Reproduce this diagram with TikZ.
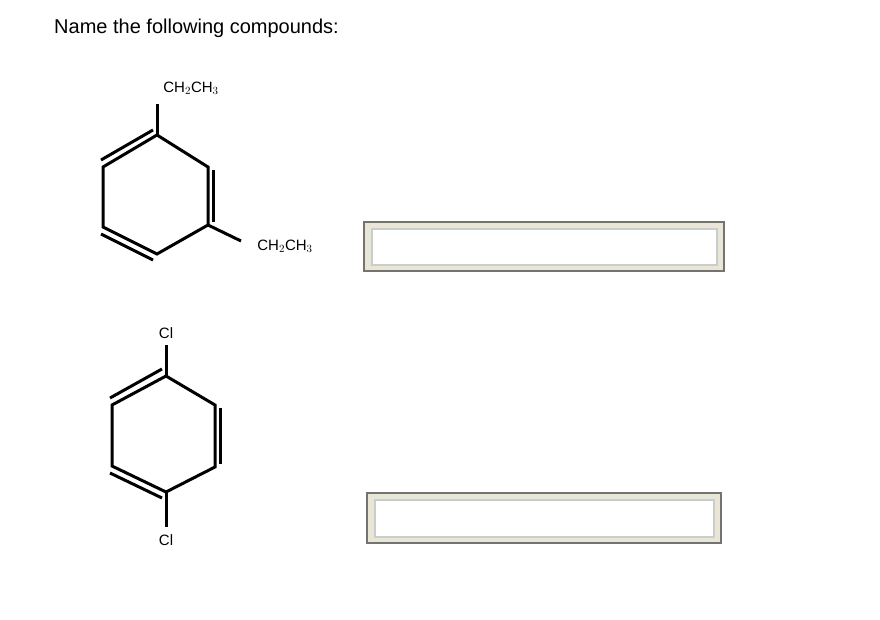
\documentclass[tikz,border=0pt]{standalone}
\usepackage{fontspec}
\setmainfont{Liberation Sans}
\begin{document}
\begin{tikzpicture}[x=1pt,y=-1pt,
  bond/.style={line width=3pt,line cap=butt},
  lab/.style={font=\fontsize{15}{17}\selectfont,inner sep=0pt},
  frameouter/.style={draw=gray!90!black,line width=1.5pt,fill={rgb,255:red,233;green,230;blue,214}},
  frameinner/.style={draw={rgb,255:red,200;green,205;blue,205},line width=1.2pt,fill=white}]
\useasboundingbox (0,0) rectangle (880,620);
\node[anchor=west,font=\fontsize{20}{24}\selectfont,inner sep=0pt] (title) at (54,28) {Name the following compounds:};
% molecule 1
\coordinate (a1) at (157,135); \coordinate (a2) at (208,167); \coordinate (a3) at (208,225);
\coordinate (a4) at (157,254); \coordinate (a5) at (103,227); \coordinate (a6) at (103,167);
\draw[bond,line join=miter] (a1)--(a2)--(a3)--(a4)--(a5)--(a6)--cycle;
\draw[bond] (213,170)--(213,222);
\draw[bond] (101,160)--(153,130);
\draw[bond] (101,234)--(153,260);
\node[lab] (e1) at (191,88) {CH$_2$CH$_3$};
\draw[bond] (a1)--(157,104);
\node[lab] (e2) at (285,246) {CH$_2$CH$_3$};
\draw[bond] (a3)--(241,241);
% molecule 2
\coordinate (b1) at (166,376); \coordinate (b2) at (215,405); \coordinate (b3) at (215,467);
\coordinate (b4) at (166,492); \coordinate (b5) at (112,466); \coordinate (b6) at (112,405);
\draw[bond,line join=miter] (b1)--(b2)--(b3)--(b4)--(b5)--(b6)--cycle;
\draw[bond] (220,408)--(220,464);
\draw[bond] (110,398)--(162,369);
\draw[bond] (110,473)--(162,498);
\node[lab] (c1) at (166,333) {Cl};
\draw[bond] (b1)--(166,345);
\node[lab] (c2) at (166,540) {Cl};
\draw[bond] (b4)--(166,527);
% answer boxes
\draw[frameouter] (364,222) rectangle (724,271);
\draw[frameinner] (372,229) rectangle (717,265);
\draw[frameouter] (367,493) rectangle (721,543);
\draw[frameinner] (375,500) rectangle (714,537);
\end{tikzpicture}
\end{document}
